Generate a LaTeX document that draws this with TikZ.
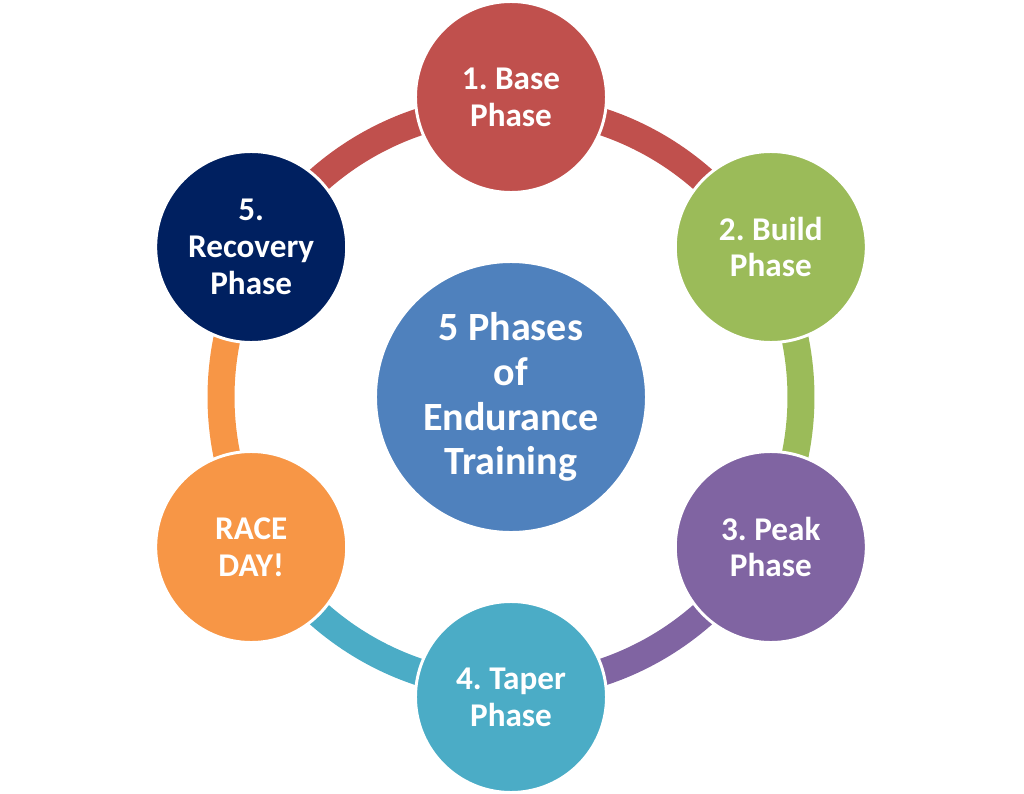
\documentclass[tikz,border=0pt]{standalone}
\usepackage{fontspec}
\setmainfont{Carlito}
\frenchspacing
\definecolor{basered}{HTML}{C0504D}
\definecolor{buildgreen}{HTML}{9BBB59}
\definecolor{peakpurple}{HTML}{8064A2}
\definecolor{taperteal}{HTML}{4BACC6}
\definecolor{raceorange}{HTML}{F79646}
\definecolor{recoverynavy}{HTML}{002060}
\definecolor{hubblue}{HTML}{4F81BD}
\usetikzlibrary{backgrounds,calc}
\newcommand{\ringR}{7.5cm}
\newcommand{\arcR}{7.25cm}

\begin{document}
\begin{tikzpicture}[
    phase/.style={circle,draw=white,line width=2.1pt,minimum size=4.775cm,inner sep=0pt,
      text=white,align=center,font=\fontsize{23.6}{26.2}\selectfont\bfseries},
    hub/.style={circle,draw=white,line width=1.4pt,fill=hubblue,minimum size=6.75cm,inner sep=0pt,
      text=white,align=center,font=\fontsize{28.5}{31.9}\selectfont\bfseries},
    ringarc/.style={line width=0.675cm}
  ]
      \useasboundingbox (-12.775,-9.9) rectangle (12.825,9.925);
      % Phase circles
      \node[phase,fill=basered] (base) at (90:\ringR) {1. Base\\Phase};
      \node[phase,fill=buildgreen] (build) at (30:\ringR) {2. Build\\Phase};
      \node[phase,fill=peakpurple] (peak) at (-30:\ringR) {3. Peak\\Phase};
      \node[phase,fill=taperteal] (taper) at (-90:\ringR) {4. Taper\\Phase};
      \node[phase,fill=raceorange] (race) at (-150:\ringR) {RACE\\DAY!};
      \node[phase,fill=recoverynavy] (recovery) at (150:\ringR) {5.\\Recovery\\Phase};
      \node[hub] (hub) at (0,0) {5 Phases\\of\\Endurance\\Training};
      % Ring arcs, behind the circles
      \begin{scope}[on background layer]
        \draw[ringarc,basered] ($(hub)!\arcR!(base)$) arc[start angle=90,end angle=30,radius=\arcR];
        \draw[ringarc,buildgreen] ($(hub)!\arcR!(build)$) arc[start angle=30,end angle=-30,radius=\arcR];
        \draw[ringarc,peakpurple] ($(hub)!\arcR!(peak)$) arc[start angle=-30,end angle=-90,radius=\arcR];
        \draw[ringarc,taperteal] ($(hub)!\arcR!(taper)$) arc[start angle=-90,end angle=-150,radius=\arcR];
        \draw[ringarc,raceorange] ($(hub)!\arcR!(race)$) arc[start angle=210,end angle=150,radius=\arcR];
        \draw[ringarc,basered] ($(hub)!\arcR!(recovery)$) arc[start angle=150,end angle=90,radius=\arcR];
      \end{scope}
    \end{tikzpicture}
\end{document}
